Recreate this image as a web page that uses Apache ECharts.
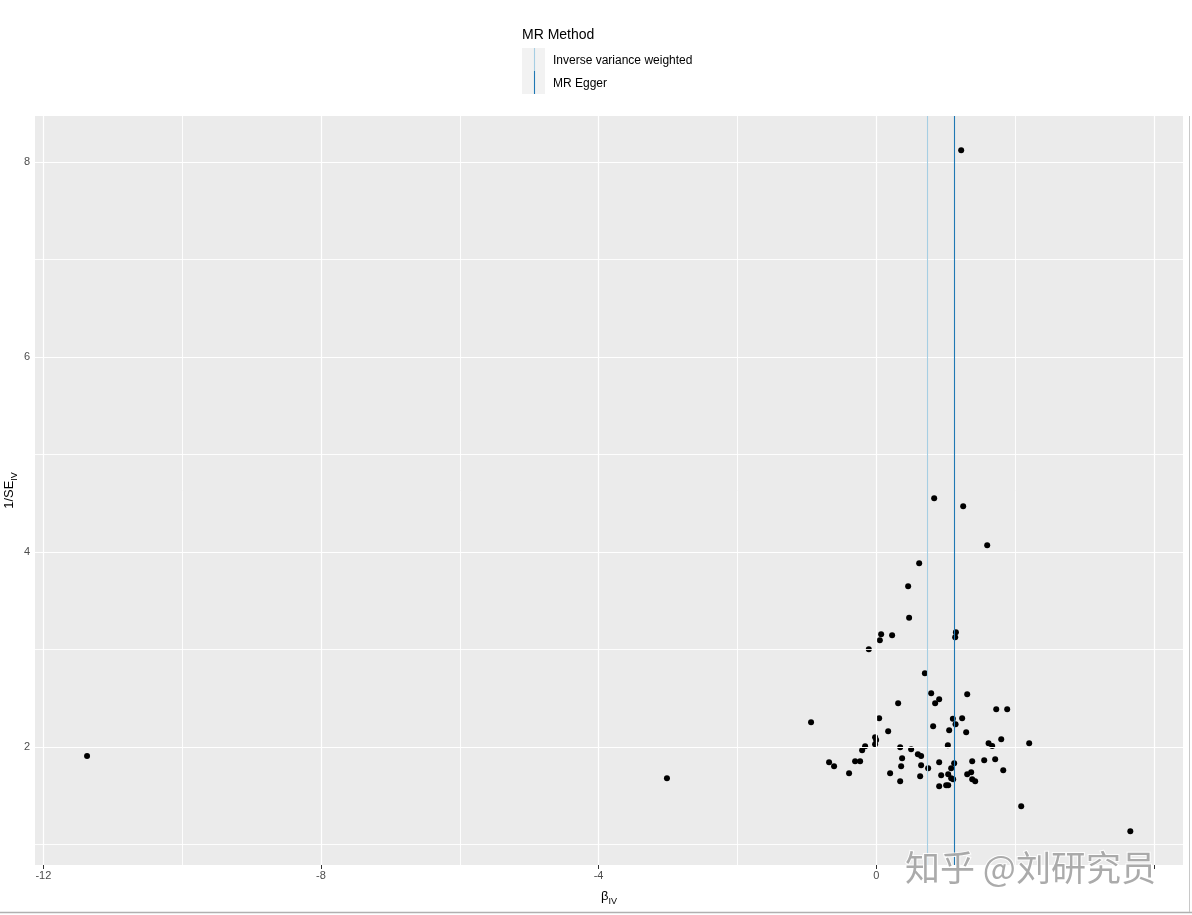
<!DOCTYPE html>
<html>
<head>
<meta charset="utf-8">
<script src="https://cdn.jsdelivr.net/npm/echarts@6/dist/echarts.min.js"></script>
<style>html,body{margin:0;padding:0;background:#fff;}#c{width:1192px;height:915px;}</style>
</head>
<body>
<div id="c"></div>
<script>
// ---- data ----
const betaIV = [-11.37,-3.015,1.224,0.835,1.253,1.599,0.619,0.460,0.474,0.071,0.229,0.052,-0.107,1.148,1.138,0.701,0.792,1.311,0.907,0.849,0.316,1.729,1.887,0.042,1.104,1.238,-0.939,0.820,1.143,1.051,0.172,1.296,-0.016,-0.001,-0.016,-0.160,-0.203,0.345,0.503,0.600,0.647,1.032,1.619,1.671,1.801,2.204,0.373,-0.679,-0.607,-0.304,-0.232,-0.391,0.200,0.359,0.647,0.748,0.907,1.123,1.080,1.383,1.556,1.714,1.830,0.345,0.633,0.936,1.037,1.080,1.109,1.311,1.368,1.383,1.426,0.907,1.008,1.037,2.089,3.661];
const invSE  = [1.908,1.679,8.12,4.551,4.469,4.069,3.884,3.648,3.326,3.156,3.146,3.094,3.002,3.176,3.125,2.756,2.551,2.541,2.489,2.448,2.448,2.387,2.387,2.294,2.290,2.294,2.253,2.212,2.233,2.171,2.161,2.151,2.100,2.072,2.028,2.007,1.966,1.997,1.976,1.925,1.908,2.017,2.038,2.010,2.079,2.038,1.884,1.843,1.802,1.853,1.853,1.730,1.730,1.802,1.812,1.782,1.843,1.833,1.782,1.853,1.864,1.874,1.761,1.648,1.699,1.710,1.720,1.679,1.669,1.720,1.741,1.669,1.648,1.597,1.607,1.607,1.392,1.135];
const methods = ['Inverse variance weighted', 'MR Egger'];
const methodEstimates = [0.742, 1.116];
const methodColors = ['#A6CEE3', '#1F78B4'];
const xTicks = [-12, -8, -4, 0, 4];
const xTickLabels = [-12, -8, -4, 0];
const xMinor = [-10, -6, -2, 2];
const yTicks = [2, 4, 6, 8];
const yMinor = [1, 3, 5, 7];
// --------------------------------------

const points = betaIV.map((b, i) => [b, invSE[i]]);
const gridLines = [];
xTicks.forEach(v => gridLines.push({xAxis: v, lineStyle: {width: 1.2}}));
xMinor.forEach(v => gridLines.push({xAxis: v, lineStyle: {width: 0.9}}));
yTicks.forEach(v => gridLines.push({yAxis: v, lineStyle: {width: 1.2}}));
yMinor.forEach(v => gridLines.push({yAxis: v, lineStyle: {width: 0.9}}));

const chart = echarts.init(document.getElementById('c'), null, {renderer: 'canvas'});
const font = 'Liberation Sans, Arial, sans-serif';
chart.setOption({
  animation: false,
  backgroundColor: '#ffffff',
  textStyle: {fontFamily: font},
  grid: {left: 35, right: 9, top: 116, bottom: 50, show: true, backgroundColor: '#EBEBEB', borderWidth: 0,
         containLabel: false, outerBoundsMode: 'none'},
  xAxis: {
    type: 'value', min: -12.12, max: 4.42,
    splitLine: {show: false}, axisLine: {show: false},
    axisTick: {show: true, customValues: xTicks, length: 4, lineStyle: {color: '#333333', width: 1}},
    axisLabel: {customValues: xTickLabels, color: '#4D4D4D', fontSize: 11, margin: 5, fontFamily: font},
    name: '{a|β}{b|IV}', nameLocation: 'middle', nameGap: 22, nameMoveOverlap: false,
    nameTextStyle: {rich: {
      a: {fontSize: 13, color: '#000', fontFamily: font, lineHeight: 16, verticalAlign: 'bottom'},
      b: {fontSize: 9, color: '#000', fontFamily: font, lineHeight: 12, verticalAlign: 'bottom', padding: [0,0,-3,0]}
    }}
  },
  yAxis: {
    type: 'value', min: 0.79, max: 8.47,
    splitLine: {show: false}, axisLine: {show: false},
    axisTick: {show: true, customValues: yTicks, length: 4, lineStyle: {color: '#333333', width: 1}},
    axisLabel: {customValues: yTicks, color: '#4D4D4D', fontSize: 11, margin: 5, fontFamily: font},
    name: '{a|1/SE}{b|IV}', nameLocation: 'middle', nameGap: 19, nameRotate: 90, nameMoveOverlap: false,
    nameTextStyle: {rich: {
      a: {fontSize: 13, color: '#000', fontFamily: font, lineHeight: 16, verticalAlign: 'bottom'},
      b: {fontSize: 9, color: '#000', fontFamily: font, lineHeight: 12, verticalAlign: 'bottom', padding: [0,0,-3,0]}
    }}
  },
  series: [
    {
      type: 'scatter', data: [], silent: true, z: 1,
      markLine: {silent: true, symbol: ['none', 'none'], label: {show: false},
        lineStyle: {color: '#FFFFFF', type: 'solid'}, data: gridLines, animation: false}
    },
    {
      type: 'scatter', data: [], silent: true, z: 2,
      markLine: {silent: true, symbol: ['none', 'none'], label: {show: false},
        data: methodEstimates.map((v, i) => ({xAxis: v, lineStyle: {color: methodColors[i], width: 1.1, type: 'solid'}})),
        animation: false}
    },
    {
      type: 'scatter', data: points, symbol: 'circle', symbolSize: 6, z: 3,
      itemStyle: {color: '#000000', opacity: 1}
    }
  ],
  graphic: [
    {type: 'text', left: 522, top: 28, style: {text: 'MR Method', fontSize: 14, fill: '#000', fontFamily: font}},
    {type: 'rect', shape: {x: 522, y: 48, width: 23, height: 46}, style: {fill: '#F2F2F2'}},
    {type: 'line', shape: {x1: 534.5, y1: 48, x2: 534.5, y2: 71}, style: {stroke: methodColors[0], lineWidth: 1.1}},
    {type: 'line', shape: {x1: 534.5, y1: 71, x2: 534.5, y2: 94}, style: {stroke: methodColors[1], lineWidth: 1.1}},
    {type: 'text', left: 553, top: 55, style: {text: methods[0], fontSize: 12, fill: '#000', fontFamily: font}},
    {type: 'text', left: 553, top: 78, style: {text: methods[1], fontSize: 12, fill: '#000', fontFamily: font}},
    {type: 'text', left: 904, top: 849, z: 100, style: {text: '知乎 @刘研究员', fontSize: 35, fontFamily: 'Noto Sans CJK SC',
      fill: 'rgba(150,150,150,0.8)', stroke: 'rgba(255,255,255,0.9)', lineWidth: 2}},
    {type: 'line', shape: {x1: 0, y1: 912.5, x2: 1192, y2: 912.5}, style: {stroke: '#B0B0B0', lineWidth: 1.5}},
    {type: 'line', shape: {x1: 1189.5, y1: 116, x2: 1189.5, y2: 912}, style: {stroke: '#C8C8C8', lineWidth: 1}}
  ]
});
</script>
</body>
</html>
